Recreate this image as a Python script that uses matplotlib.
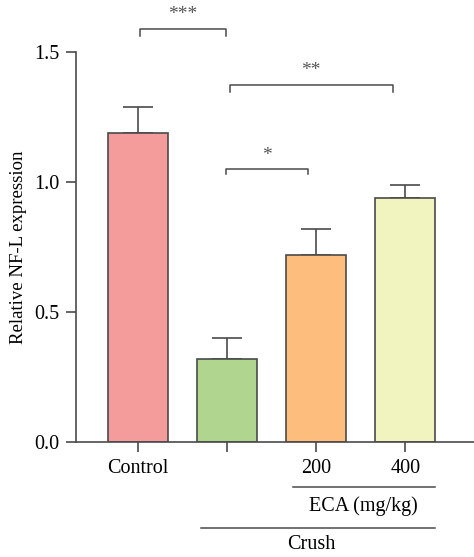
import matplotlib
matplotlib.use("Agg")
import matplotlib.pyplot as plt
import matplotlib.transforms as mtransforms

plt.rcParams['font.family'] = ['Liberation Serif', 'DejaVu Serif']

groups = ["Control", "", "200", "400"]
means = [1.19, 0.32, 0.72, 0.94]
errors = [0.10, 0.08, 0.10, 0.05]
colors = ["#F49B9C", "#AFD58E", "#FDBE7D", "#F2F4C0"]

# significance brackets: (left x, right x, height, label)
brackets = [(0.02, 0.99, 1.59, "***"),
            (1.03, 2.86, 1.375, "**"),
            (0.99, 1.91, 1.05, "*")]

edge = "#4a4a4a"
fig = plt.figure(figsize=(4.74, 5.57), dpi=100)
ax = fig.add_axes([0.160, 0.2065, 0.840, 0.700])

x = range(len(groups))
ax.bar(x, means, width=0.67, color=colors, edgecolor=edge, linewidth=1.2, zorder=2)
ax.errorbar(x, means, yerr=[[0] * len(errors), errors], fmt="none",
            ecolor=edge, elinewidth=1.2, capsize=11, capthick=1.2, zorder=1)

ax.set_xlim(-0.695, 3.77)
ax.set_ylim(0, 1.5)
ax.set_yticks([0.0, 0.5, 1.0, 1.5])
ax.set_yticklabels(["0.0", "0.5", "1.0", "1.5"])
ax.set_xticks(list(x))
ax.set_xticklabels(groups)
ax.tick_params(axis="both", labelsize=14.5, length=7, width=1.2, color=edge, pad=5)
ax.set_ylabel("Relative NF-L expression", fontsize=13.5, labelpad=5)
for side in ["top", "right"]:
    ax.spines[side].set_visible(False)
for side in ["left", "bottom"]:
    ax.spines[side].set_linewidth(1.2)
    ax.spines[side].set_color(edge)

for x0, x1, h, lab in brackets:
    leg = 0.03 if lab != "*" else 0.02
    ax.plot([x0, x0, x1, x1], [h - leg, h, h, h - leg], color=edge,
            linewidth=1.1, clip_on=False)
    ax.text((x0 + x1) / 2, h + 0.02, lab, ha="center", va="bottom",
            fontsize=14, color="#555555", clip_on=False)

trans = mtransforms.blended_transform_factory(ax.transData, fig.transFigure)
ax.plot([1.74, 3.33], [0.1257, 0.1257], color=edge, linewidth=1.1,
        transform=trans, clip_on=False)
ax.text(2.53, 0.0915, "ECA (mg/kg)", ha="center", va="center", fontsize=14.5,
        transform=trans)
ax.plot([0.71, 3.33], [0.052, 0.052], color=edge, linewidth=1.1,
        transform=trans, clip_on=False)
ax.text(1.95, 0.0233, "Crush", ha="center", va="center", fontsize=14.5,
        transform=trans)

fig.savefig("out.png", dpi=100)
